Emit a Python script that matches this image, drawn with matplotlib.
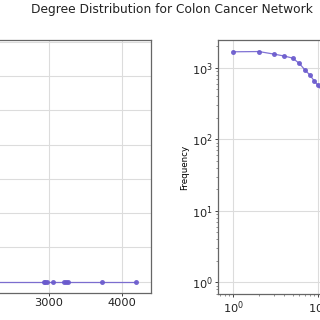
import matplotlib
matplotlib.use("Agg")
import matplotlib.pyplot as plt

degrees = [1, 2, 3, 4, 5, 6, 7, 8, 9, 10,
           11, 12, 13, 14, 15, 20, 30, 50, 100, 200, 500, 1000, 2000,
           2936, 2950, 2973, 3059, 3210, 3233, 3260, 3726, 4192]
frequency = [1667, 1680, 1548, 1452, 1361, 1145, 926, 788, 650, 565,
             480, 410, 350, 300, 260, 150, 60, 20, 5, 2, 1, 1, 1,
             1, 1, 1, 1, 1, 1, 1, 1, 1]
title = "Degree Distribution for Colon Cancer Network"

color = "#6a5acd"
plt.rcParams['font.family'] = ['DejaVu Sans']

fig = plt.figure(figsize=(3.2, 3.2), dpi=100)
ax1 = fig.add_axes([-186/320, 1-293/320, 337/320, 253/320])
ax2 = fig.add_axes([218/320, 1-294/320, 338/320, 254/320])

for ax in (ax1, ax2):
    ax.plot(degrees, frequency, color=color, lw=0.9, marker='o', ms=2.6,
            alpha=0.85, mec=color, mfc=color)
    ax.grid(True, color='#dcdcdc', lw=0.8)
    ax.set_axisbelow(True)
    for s in ax.spines.values():
        s.set_color('#666666')
        s.set_linewidth(0.9)
    ax.tick_params(labelsize=8.2, colors='#222222', length=2.5, width=0.6,
                   pad=1.2)
    ax.tick_params(which='minor', length=1.5, width=0.5, colors='#666666')
    ax.set_xlabel("Degree", fontsize=7.2, labelpad=2)
    ax.set_ylabel("Frequency", fontsize=6.3, labelpad=2)

ax1.set_yticks([0, 250, 500, 750, 1000, 1250, 1500, 1750])
ax2.set_xscale('log')
ax2.set_yscale('log')

fig.text(172/320, 1-10/320, title, ha='center', va='center', fontsize=8.8,
         color='#222222')

fig.savefig("out.png", dpi=100)
